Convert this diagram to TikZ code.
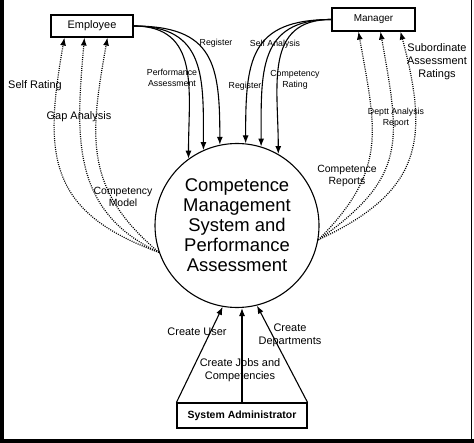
\documentclass[tikz,border=0pt]{standalone}
\usepackage{fontspec}
\setmainfont{Liberation Sans}
\usetikzlibrary{arrows.meta}

\begin{document}
\begin{tikzpicture}[x=1bp,y=1bp,
    box/.style={draw,line width=1.1bp,minimum height=22bp,inner sep=0pt,font=\fontsize{11}{12}\selectfont},
    flow/.style={line width=1.1bp,-{Latex[length=8bp,width=6bp]}},
    dotflow/.style={line width=1.2bp,dash pattern=on 1bp off 1.2bp,-{Latex[length=8bp,width=6bp]}},
    lbl/.style={align=center,inner sep=0pt,font=\fontsize{11}{13}\selectfont},
    sml/.style={align=center,inner sep=0pt,font=\fontsize{8.8}{11}\selectfont}]
    \useasboundingbox (0,0) rectangle (474,-443);
    % frame
    \fill (0,0) rectangle (3.5,-443);
    \fill (0,-439) rectangle (474,-443);
    \draw[line width=1.5bp] (471.5,0) -- (471.5,-439);
    % actors and process
    \node[box,minimum width=82bp] (emp) at (92,-26) {Employee};
    \node[box,minimum width=83bp,minimum height=23bp,font=\fontsize{10}{11}\selectfont] (mgr) at (373.5,-19.5) {Manager};
    \node[circle,draw,line width=1.1bp,minimum size=164bp,inner sep=0pt,align=center,font=\fontsize{18.5}{20}\selectfont] (cms) at (237,-225.5) {Competence\\Management\\System and\\Performance\\Assessment};
    \node[box,minimum width=130bp,minimum height=25bp,font=\bfseries\fontsize{10.5}{12}\selectfont] (adm) at (242,-415.5) {System Administrator};
    % employee -> system
    \draw[flow] (emp.east) to[out=0,in=90,looseness=1.2] (cms.126);
    \draw[flow] (emp.east) to[out=0,in=90,looseness=1.3] (cms.114);
    \draw[flow] (emp.east) to[out=0,in=90,looseness=1.4] (cms.102);
    % manager -> system
    \draw[flow] (mgr.west) to[out=180,in=90,looseness=1.4] (cms.84);
    \draw[flow] (mgr.west) to[out=180,in=90,looseness=1.3] (cms.73);
    \draw[flow] (mgr.west) to[out=180,in=90,looseness=1.2] (cms.60);
    % system -> employee
    \draw[dotflow] (cms.199) to[out=160,in=-100,looseness=1.3] ([xshift=14bp]emp.south west);
    \draw[dotflow] (cms.199) to[out=155,in=-95,looseness=1.1] ([xshift=34bp]emp.south west);
    \draw[dotflow] (cms.199) to[out=140,in=-100,looseness=1.15] ([xshift=57bp]emp.south west);
    % system -> manager
    \draw[dotflow] (cms.-10) to[out=45,in=-80,looseness=1.2] ([xshift=27bp]mgr.south west);
    \draw[dotflow] (cms.-10) to[out=35,in=-80,looseness=1.3] ([xshift=49bp]mgr.south west);
    \draw[dotflow] (cms.-10) to[out=25,in=-75,looseness=1.3] ([xshift=69bp]mgr.south west);
    % administrator -> system
    \draw[flow] (adm.north west) -- (cms.260);
    \draw[flow] (adm.north) -- (adm.north |- cms.south);
    \draw[flow] (adm.north east) -- (cms.284);
    % labels
    \node[lbl] (selfr) at (35,-86) {Self Rating};
    \node[lbl] (gap) at (79,-117) {Gap Analysis};
    \node[lbl,font=\fontsize{10.5}{11.5}\selectfont] (cmod) at (123,-197) {Competency\\Model};
    \node[sml] (perf) at (172,-78) {Performance\\Assessment};
    \node[sml] (reg1) at (216,-43) {Register};
    \node[sml] (selfa) at (275,-44) {Self Analysis};
    \node[sml] (reg2) at (245,-86) {Register};
    \node[sml] (crat) at (295,-80) {Competency\\Rating};
    \node[lbl] (subr) at (437,-62) {Subordinate\\Assessment\\Ratings};
    \node[sml] (dept) at (396,-118) {Deptt Analysis\\Report};
    \node[lbl,font=\fontsize{10.5}{11.5}\selectfont] (crep) at (347,-176) {Competence\\Reports};
    \node[lbl] (cusr) at (197,-332) {Create User};
    \node[lbl] (cjob) at (240,-370) {Create Jobs and\\Competencies};
    \node[lbl] (cdep) at (290,-335) {Create\\Departments};
\end{tikzpicture}
\end{document}
